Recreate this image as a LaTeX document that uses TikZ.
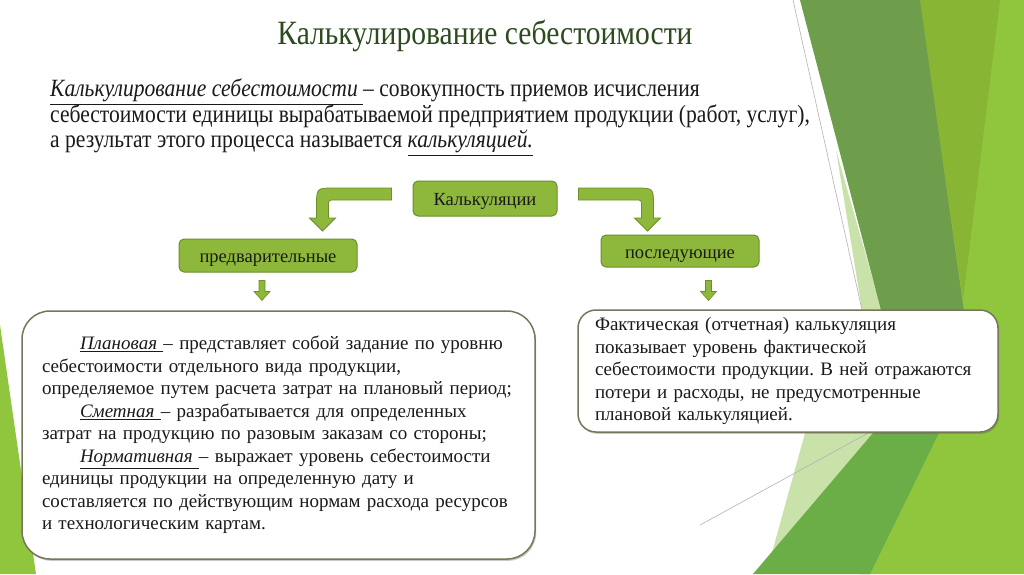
\documentclass[tikz,border=0pt]{standalone}
\usepackage{fontspec}
\setmainfont{Liberation Serif}
\newfontfamily\narrowserif[FakeStretch=0.87]{Liberation Serif}
\usetikzlibrary{calc,shadows}
\frenchspacing

\definecolor{leaf}{HTML}{8DB83C}
\definecolor{leafdark}{HTML}{6C8E2C}
\definecolor{boxline}{HTML}{76765A}
\definecolor{titlegreen}{HTML}{2D4B1F}
\definecolor{ink}{HTML}{1A1A1A}
\definecolor{lime}{HTML}{90C63E}
\definecolor{olivestrip}{HTML}{88B533}
\definecolor{darkfacet}{HTML}{6E9D4C}
\definecolor{midfacet}{HTML}{6BAE47}
\definecolor{palefacet}{HTML}{C9E2A9}

\begin{document}
\begin{tikzpicture}[x=1pt, y=-1pt,
  greenbox/.style={draw=leafdark, fill=leaf, line width=1pt, rounded corners=5pt,
    text=ink, font=\fontsize{18.5}{20}\selectfont, text height=17pt, text depth=3pt},
  textbox/.style={draw=boxline, fill=white, line width=1.5pt, align=left, text=ink,
    font=\fontsize{19}{22.5}\selectfont,
    drop shadow={shadow xshift=1.2pt, shadow yshift=-1.8pt, opacity=0.3, fill=black!70}},
  bendarrow/.pic={
    \filldraw[draw=leafdark, fill=leaf, line width=0.8pt]
      (0,-6) -- (-57,-6) .. controls (-75,-6) .. (-75,12) -- (-75,24) -- (-82,24)
      -- (-69,37) -- (-56,24) -- (-63,24) -- (-63,12) .. controls (-63,6) .. (-57,6)
      -- (0,6) -- cycle;
  },
  downarrow/.pic={
    \filldraw[draw=leafdark, fill=leaf, line width=0.6pt]
      (-3,0) -- (-3,11) -- (-8,11) -- (0,20) -- (8,11) -- (3,11) -- (3,0) -- cycle;
  }]

  \useasboundingbox (0,0) rectangle (1024,574);
  \fill[white] (0,0) rectangle (1024,574);

  % background facets
  \fill[lime] (0,325) -- (36,574) -- (0,574) -- cycle;
  \fill[lime] (893,0) -- (1024,0) -- (1024,574) -- (860,574) -- cycle;
  \fill[olivestrip] (920,0) -- (1000,0) -- (963,300) -- cycle;
  \fill[palefacet] (836,150) -- (890,340) -- (880,433) -- (770,560) -- (805,433) -- (862,310) -- cycle;
  \fill[darkfacet] (800,0) -- (920,0) -- (968,340) -- (955,400) -- (900,400) -- (887,333) -- cycle;
  \fill[midfacet] (753,574) -- (873,433) -- (900,400) -- (955,400) -- (870,574) -- cycle;
  \draw[black!30, line width=0.6pt] (793,0) -- (862,310);
  \draw[black!30, line width=0.6pt] (870,432) -- (700,525);

  \node[font=\narrowserif\fontsize{34}{38}\selectfont, text=titlegreen, anchor=base] (title)
    at (485,44) {Калькулирование себестоимости};

  \node[anchor=north west, align=left, inner sep=0pt, text=ink,
    font=\narrowserif\fontsize{24.8}{25.5}\selectfont] (def) at (50,79)
    {\underline{\textit{Калькулирование себестоимости }}– совокупность приемов исчисления\\
     себестоимости единицы вырабатываемой предприятием продукции (работ, услуг),\\
     а результат этого процесса называется \underline{\textit{калькуляцией.}}};

  \node[greenbox, minimum width=144pt, minimum height=35pt] (calc) at (485,198.5) {Калькуляции};
  \node[greenbox, minimum width=178pt, minimum height=33pt] (pre) at (268,255.5) {предварительные};
  \node[greenbox, minimum width=158pt, minimum height=32pt] (post) at (680,251) {последующие};

  \node[textbox, rounded corners=28pt, minimum width=513pt, minimum height=248pt,
    text width=473pt] (plan) at (278.5,435)
    {\hspace*{38pt}\underline{\textit{Плановая }}– представляет собой задание по уровню\\
     себестоимости отдельного вида продукции,\\
     определяемое путем расчета затрат на плановый период;\\
     \hspace*{38pt}\underline{\textit{Сметная }}– разрабатывается для определенных\\
     затрат на продукцию по разовым заказам со стороны;\\
     \hspace*{38pt}\underline{\textit{Нормативная }}– выражает уровень себестоимости\\
     единицы продукции на определенную дату и\\
     составляется по действующим нормам расхода ресурсов\\
     и технологическим картам.};

  \node[textbox, rounded corners=18pt, minimum width=420pt, minimum height=122pt,
    text width=386pt] (fact) at (788,371)
    {Фактическая (отчетная) калькуляция\\
     показывает уровень фактической\\
     себестоимости продукции. В ней отражаются\\
     потери и расходы, не предусмотренные\\
     плановой калькуляцией.};

  % arrows
  \pic at ($(calc.west)+(-21,-4.5)$) {bendarrow};
  \pic[xscale=-1] at ($(calc.east)+(21,-4.5)$) {bendarrow};
  \pic at ($(pre.south)+(-6,8)$) {downarrow};
  \pic at ($(post.south)+(28.5,13)$) {downarrow};
\end{tikzpicture}
\end{document}
